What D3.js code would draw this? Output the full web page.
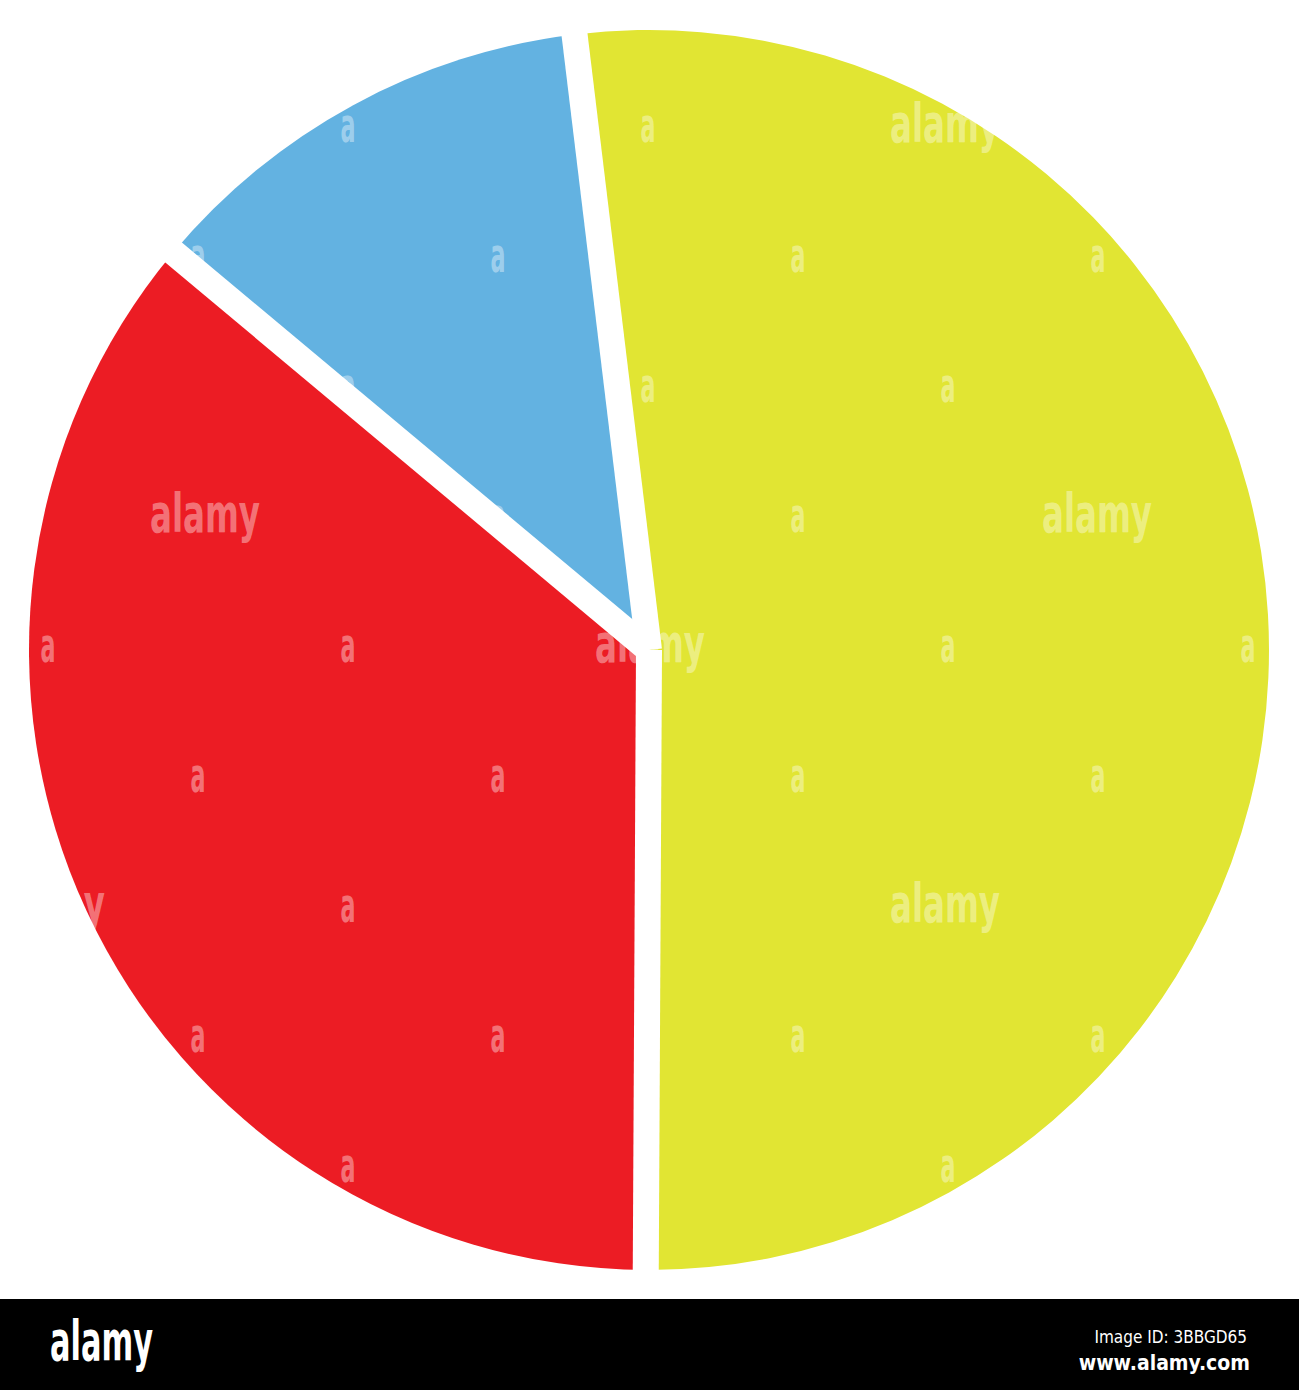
<!DOCTYPE html>
<html>
<head>
<meta charset="utf-8">
<script src="https://cdn.jsdelivr.net/npm/d3@7"></script>
<style>
  html, body { margin: 0; padding: 0; background: #fff; }
  svg { display: block; }
</style>
</head>
<body>
<script>
// Data
const categories = ["Yellow", "Red", "Blue"];
const values = [52, 36, 12];
const colors = ["#E1E533", "#EC1C24", "#63B2E1"];

// Watermark rows (text labels of the stock watermark)
const wmEvenX = [48, 348, 648, 948, 1248];
const wmOddX = [198, 498, 798, 1098];
const wmRowsY = [128, 258, 388, 518, 648, 778, 908, 1038, 1168];
const wmBig = [[945,128],[205,518],[1097,518],[650,648],[50,908],[945,908]];
const bannerTexts = ["alamy", "Image ID: 3BBGD65", "www.alamy.com"];

const W = 1299, H = 1390;
const cx = 649, cy = 650, r = 620, gap = 26;

const svg = d3.select("body").append("svg")
  .attr("width", W).attr("height", H);

svg.append("rect").attr("width", W).attr("height", H).attr("fill", "#fff");

const a0 = -6.9 * Math.PI / 180;
const pie = d3.pie().sort(null).value(d => d)
  .startAngle(a0).endAngle(a0 + 2 * Math.PI);
const arc = d3.arc().innerRadius(0).outerRadius(r);
const arcs = pie(values);

const g = svg.append("g").attr("transform", `translate(${cx},${cy})`);
g.selectAll("path.slice")
  .data(arcs)
  .join("path")
  .attr("class", "slice")
  .attr("d", arc)
  .attr("fill", (d, i) => colors[i]);

// white separators between slices
g.selectAll("line.sep")
  .data(arcs)
  .join("line")
  .attr("class", "sep")
  .attr("x1", 0).attr("y1", 0)
  .attr("x2", d => Math.sin(d.startAngle) * (r + 20))
  .attr("y2", d => -Math.cos(d.startAngle) * (r + 20))
  .attr("stroke", "#fff")
  .attr("stroke-width", gap)
  .attr("stroke-linecap", "butt");

// watermark
const wmFont = "'Liberation Sans Narrow', 'DejaVu Sans Condensed', sans-serif";
const wm = svg.append("g")
  .attr("fill", "#fff")
  .attr("fill-opacity", 0.4)
  .attr("font-family", wmFont)
  .attr("font-weight", "bold")
  .attr("text-anchor", "middle");

const isBig = (x, y) => wmBig.some(([bx, by]) => Math.abs(bx - x) < 20 && by === y);
wmRowsY.forEach((y, i) => {
  const xs = i % 2 === 0 ? wmEvenX : wmOddX;
  xs.forEach(x => {
    if (isBig(x, y)) return;
    wm.append("text").attr("x", x).attr("y", y + 14)
      .attr("font-size", 48)
      .attr("textLength", 15).attr("lengthAdjust", "spacingAndGlyphs")
      .text("a");
  });
});
wmBig.forEach(([x, y]) => {
  wm.append("text").attr("x", x).attr("y", y + 14)
    .attr("font-size", 54)
    .attr("textLength", 110).attr("lengthAdjust", "spacingAndGlyphs")
    .text("alamy");
});

// banner
svg.append("rect").attr("x", 0).attr("y", 1299).attr("width", W).attr("height", H - 1299)
  .attr("fill", "#000");
svg.append("text").attr("x", 50).attr("y", 1360)
  .attr("fill", "#fff")
  .attr("font-family", wmFont)
  .attr("font-weight", "bold").attr("font-size", 56)
  .attr("textLength", 103).attr("lengthAdjust", "spacingAndGlyphs")
  .text(bannerTexts[0]);
svg.append("text").attr("x", 1247).attr("y", 1343)
  .attr("fill", "#fff").attr("text-anchor", "end")
  .attr("font-family", "'DejaVu Sans Condensed', 'Liberation Sans Narrow', sans-serif")
  .attr("font-size", 17)
  .text(bannerTexts[1]);
svg.append("text").attr("x", 1250).attr("y", 1370)
  .attr("fill", "#fff").attr("text-anchor", "end")
  .attr("font-family", "'DejaVu Sans Condensed', 'Liberation Sans Narrow', sans-serif")
  .attr("font-weight", "bold")
  .attr("font-size", 21)
  .text(bannerTexts[2]);
</script>
</body>
</html>
